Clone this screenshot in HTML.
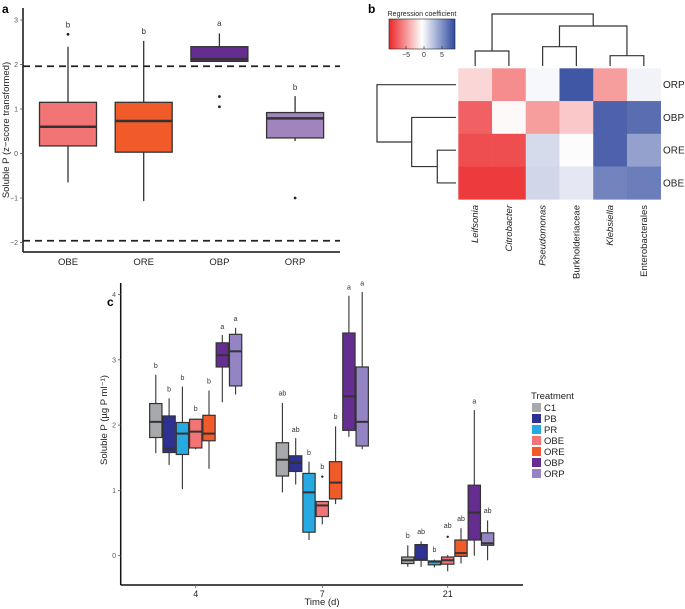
<!DOCTYPE html>
<html><head><meta charset="utf-8"><style>
html,body{margin:0;padding:0;background:#fff;}
svg{display:block;font-family:"Liberation Sans",Arial,sans-serif;}
</style></head><body>
<svg id="fig" width="685" height="609" viewBox="0 0 685 609" xmlns="http://www.w3.org/2000/svg"></svg>
<script>
// ---------- Panel a data ----------
const aCats = ["OBE","ORE","OBP","ORP"];
const aColors = ["#f27474","#f15a29","#662d91","#a284bd"];
const aLow = [-0.65,-1.07,2.07,0.28];
const aQ1 = [0.17,0.03,2.07,0.35];
const aMed = [0.6,0.73,2.12,0.79];
const aQ3 = [1.15,1.15,2.4,0.92];
const aHigh = [2.4,2.53,2.7,1.29];
const aOutliers = [[2.68],[],[1.28,1.05],[-1.0]];
const aLetters = ["b","b","a","b"];
const aLetterY = [2.9,2.75,2.93,1.5];
const aTicks = [-2,-1,0,1,2,3];
const aThresh = [1.96,-1.96];

// ---------- Panel b data ----------
const bCols = ["Leifsonia","Citrobacter","Pseudomonas","Burkholderiaceae","Klebsiella","Enterobacterales"];
const bItalic = [true,true,true,false,true,false];
const bRows = ["ORP","OBP","ORE","OBE"];
const bValues = [
  [-1.5,-4.2,0.3,7.5,-3.6,0.5],
  [-5.8,-0.2,-3.6,-2.0,7.0,6.5],
  [-6.5,-6.5,1.6,0.1,7.0,4.2],
  [-7.2,-7.2,1.8,1.0,5.5,5.8]
];
const bLegendTicks = [-5,0,5];

// ---------- Panel c data ----------
const cDays = ["4","7","21"];
const cTreat = ["C1","PB","PR","OBE","ORE","OBP","ORP"];
const cColors = ["#a7a9ac","#2e3192","#27aae1","#f27474","#f15a29","#662d91","#9584c4"];
const cLow = [[1.57,1.39,1.02,1.63,1.33,2.35,2.47],[0.97,1.09,0.24,0.48,0.79,1.82,1.63],[-0.17,-0.17,-0.18,-0.24,-0.12,0.0,-0.07]];
const cQ1 = [[1.81,1.58,1.55,1.65,1.76,2.89,2.6],[1.22,1.29,0.36,0.6,0.87,1.92,1.68],[-0.12,-0.07,-0.14,-0.13,-0.01,0.24,0.16]];
const cMed = [[2.05,1.64,1.87,1.9,1.87,3.07,3.13],[1.47,1.42,0.97,0.77,1.12,2.44,2.05],[-0.07,-0.06,-0.09,-0.07,0.04,0.66,0.19]];
const cQ3 = [[2.33,2.14,2.04,2.09,2.15,3.26,3.39],[1.73,1.53,1.26,0.83,1.44,3.41,2.89],[-0.02,0.17,-0.08,-0.02,0.24,1.08,0.35]];
const cHigh = [[2.77,2.41,2.59,2.1,2.53,3.38,3.49],[2.34,1.8,1.44,0.83,1.98,3.98,4.04],[0.16,0.22,-0.06,0.01,0.42,2.23,0.54]];
const cOut = [[[],[],[],[],[],[],[]],[[],[],[],[1.21],[],[],[]],[[],[],[],[0.29],[],[],[]]];
const cLetters = [["b","b","b","b","b","a","a"],["ab","ab","b","b","b","a","a"],["b","ab","b","ab","ab","a","ab"]];
const cLetterY = [[2.92,2.56,2.74,2.26,2.68,3.52,3.64],[2.5,1.94,1.59,1.37,2.14,4.12,4.18],[0.32,0.38,0.1,0.47,0.58,2.38,0.7]];
const cTicks = [0,1,2,3,4];

const NS="http://www.w3.org/2000/svg";
const svg=document.getElementById('fig');
function el(tag,attrs,parent,text){const e=document.createElementNS(NS,tag);for(const k in attrs)e.setAttribute(k,attrs[k]);if(text!==undefined)e.textContent=text;(parent||svg).appendChild(e);return e;}
function line(x1,y1,x2,y2,s,w,p,extra){return el('line',Object.assign({x1,y1,x2,y2,stroke:s||'#333','stroke-width':w||1},extra||{}),p);}

// panel letters
let t;
t=el('text',{x:2,y:13,'font-size':12,'font-weight':'bold'},svg,'a');
t=el('text',{x:368,y:13,'font-size':12,'font-weight':'bold'},svg,'b');
t=el('text',{x:107,y:306,'font-size':12,'font-weight':'bold'},svg,'c');

// ---------- Panel a ----------
const ga=el('g',{});
const aY=v=>153.5-v*44.5;
const aX=i=>68+i*75.7;
line(23,8,23,252,'#111',1.5,ga);line(23,252,340,252,'#111',1.5,ga);
aTicks.forEach(v=>{const tk=el('text',{x:18,y:aY(v)+2.5,'font-size':7,'text-anchor':'end',fill:'#555'},ga,v===-1||v===-2?'\u2212'+Math.abs(v):String(v));line(20,aY(v),23,aY(v),'#555',0.8,ga);});
t=el('text',{x:9,y:130,'font-size':9.5,'text-anchor':'middle',transform:'rotate(-90 9 130)',fill:'#222'},ga,'Soluble P (z\u2212score transformed)');
aThresh.forEach(v=>{const d=line(23,aY(v),340,aY(v),'#222',1.8,ga,{'stroke-dasharray':'7,5'});});
aCats.forEach((c,i)=>{
  const x=aX(i),w=57;
  const g=el('g',{},ga);
  line(x,aY(aLow[i]),x,aY(aHigh[i]),'#333',1.3,g);
  el('rect',{x:x-w/2,y:aY(aQ3[i]),width:w,height:aY(aQ1[i])-aY(aQ3[i]),fill:aColors[i],stroke:'#333','stroke-width':1.3},g);
  line(x-w/2,aY(aMed[i]),x+w/2,aY(aMed[i]),'#333',2.5,g);
  aOutliers[i].forEach(o=>el('circle',{cx:x,cy:aY(o),r:1.4,fill:'#222'},g));
  const l=el('text',{x:x,y:aY(aLetterY[i])+3,'font-size':8,'text-anchor':'middle',fill:'#333'},g,aLetters[i]);
  const xl=el('text',{x:x,y:265,'font-size':9.5,'text-anchor':'middle',fill:'#222'},g,c);
});

// ---------- Panel b ----------
const gb=el('g',{});
function hcol(v){const m=8;let f=Math.max(-1,Math.min(1,v/m));let r,g,b;
  if(f<0){f=-f;r=255+(236-255)*f;g=255+(38-255)*f;b=255+(40-255)*f;}
  else{r=255+(52-255)*f;g=255+(76-255)*f;b=255+(160-255)*f;}
  return `rgb(${r|0},${g|0},${b|0})`;}
const hx0=458.3,hcw=33.73,hy0=68.3,hch=32.75;
bRows.forEach((r,ri)=>{bCols.forEach((c,ci)=>{
  const cell=el('rect',{x:hx0+ci*hcw,y:hy0+ri*hch,width:hcw+0.3,height:hch+0.3,fill:hcol(bValues[ri][ci])},gb);
  });
  const rl=el('text',{x:663,y:hy0+ri*hch+hch/2+3.5,'font-size':10,fill:'#222'},gb,r);
});
bCols.forEach((c,ci)=>{const x=hx0+ci*hcw+hcw/2+3;
  const cl=el('text',{x:x,y:205,'font-size':9.5,'text-anchor':'end',transform:`rotate(-90 ${x} 205)`,'font-style':bItalic[ci]?'italic':'normal',fill:'#222'},gb,c);});
// dendrograms
const dg=el('g',{},gb);
const cc=i=>hx0+i*hcw+hcw/2;
function U(x1,x2,yTop,y1,y2,p){el('polyline',{points:`${x1},${y1} ${x1},${yTop} ${x2},${yTop} ${x2},${y2}`,fill:'none',stroke:'#333','stroke-width':1.2},p);}
U(cc(0),cc(1),51,66,66,dg);U(cc(2),cc(3),46.7,66,66,dg);U(cc(4),cc(5),55.7,66,66,dg);
U((cc(2)+cc(3))/2,(cc(4)+cc(5))/2,26,46.7,55.7,dg);
U((cc(0)+cc(1))/2,((cc(2)+cc(3))/2+(cc(4)+cc(5))/2)/2,14,51,26,dg);
const rg=el('g',{},gb);
const rc=i=>hy0+i*hch+hch/2;
function L(y1,y2,xL,x1,x2,p){el('polyline',{points:`${x1},${y1} ${xL},${y1} ${xL},${y2} ${x2},${y2}`,fill:'none',stroke:'#333','stroke-width':1.2},p);}
L(rc(2),rc(3),437.3,456,456,rg);
L(rc(1),(rc(2)+rc(3))/2,411.7,456,437.3,rg);
L(rc(0),(rc(1)+(rc(2)+rc(3))/2)/2,377,456,411.7,rg);
// color legend
const lg=el('g',{},gb);
const defs=el('defs',{},svg);const grad=el('linearGradient',{id:'rg',x1:0,x2:1,y1:0,y2:0},defs);
el('stop',{offset:'0','stop-color':'#ec2628'},grad);el('stop',{offset:'0.5','stop-color':'#ffffff'},grad);el('stop',{offset:'1','stop-color':'#2e4aa0'},grad);
t=el('text',{x:422,y:16,'font-size':7,'text-anchor':'middle',fill:'#222'},lg,'Regression coefficient');
el('rect',{x:389,y:19,width:66,height:30,fill:'url(#rg)',stroke:'#222','stroke-width':0.6},lg);
bLegendTicks.forEach(v=>{const x=424+v*3.6;line(x,46,x,49,'#222',0.6,lg);const tk=el('text',{x:x,y:57,'font-size':7,'text-anchor':'middle',fill:'#333'},lg,v<0?'\u2212'+Math.abs(v):String(v));});

// ---------- Panel c ----------
const gc=el('g',{});
const cY=v=>555.7-v*65.3;
const cX=(d,i)=>[195.7,322.3,447.7][d]+(i-3)*13.3;
line(120.7,283,120.7,585,'#111',1.5,gc);line(120.7,585,523,585,'#111',1.5,gc);
cTicks.forEach(v=>{line(118,cY(v),120.7,cY(v),'#555',0.8,gc);const tk=el('text',{x:116,y:cY(v)+2.5,'font-size':7,'text-anchor':'end',fill:'#555'},gc,String(v));});
t=el('text',{x:107,y:420,'font-size':9.5,'text-anchor':'middle',transform:'rotate(-90 107 420)',fill:'#222'},gc,'Soluble P (\u00b5g P ml\u207b\u00b9)');
cDays.forEach((d,di)=>{const x=[195.7,322.3,447.7][di];line(x,585,x,588,'#555',0.8,gc);
  const tk=el('text',{x:x,y:597,'font-size':9,'text-anchor':'middle',fill:'#222'},gc,d);
  cTreat.forEach((tr,i)=>{const x=cX(di,i),w=12.3;
    const g=el('g',{},gc);
    line(x,cY(cLow[di][i]),x,cY(cHigh[di][i]),'#333',1.1,g);
    el('rect',{x:x-w/2,y:cY(cQ3[di][i]),width:w,height:Math.max(1,cY(cQ1[di][i])-cY(cQ3[di][i])),fill:cColors[i],stroke:'#333','stroke-width':1.2},g);
    line(x-w/2,cY(cMed[di][i]),x+w/2,cY(cMed[di][i]),'#333',2,g);
    cOut[di][i].forEach(o=>el('circle',{cx:x,cy:cY(o),r:1.2,fill:'#222'},g));
    const l=el('text',{x:x,y:cY(cLetterY[di][i])+3,'font-size':7,'text-anchor':'middle',fill:'#333'},g,cLetters[di][i]);
  });
});
t=el('text',{x:322,y:605,'font-size':9.5,'text-anchor':'middle',fill:'#222'},gc,'Time (d)');
const tl=el('g',{},gc);
t=el('text',{x:531,y:399,'font-size':9.5,fill:'#222'},tl,'Treatment');
cTreat.forEach((tr,i)=>{const y=403+i*11;const e=el('g',{},tl);
  el('rect',{x:532,y:y,width:9,height:9,fill:cColors[i]},e);
  el('text',{x:544,y:y+8,'font-size':9.5,fill:'#222'},e,tr);});
</script>
</body></html>
